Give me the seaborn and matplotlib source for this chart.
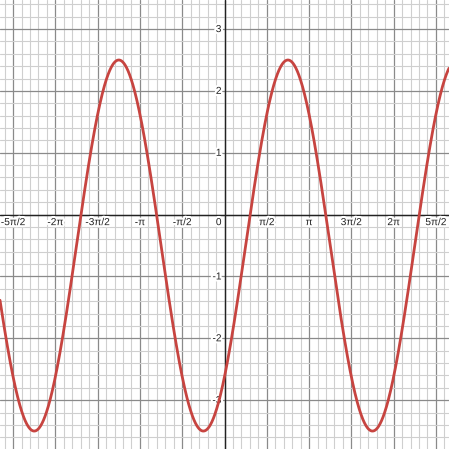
import numpy as np
import pandas as pd
import matplotlib
matplotlib.use("Agg")
import matplotlib.pyplot as plt
import matplotlib.patheffects as pe
from matplotlib.ticker import MultipleLocator
import seaborn as sns

# ---- data ----
amplitude = 3.0          # peak 2.5, trough -3.5
midline = -0.5
phase_shift = np.pi / 4  # y = A*sin(x - phase) + midline
x_range = [-8.34, 8.34]
y_range = [-3.79, 3.47]

x_tick_values = [-5, -4, -3, -2, -1, 1, 2, 3, 4, 5]   # multiples of pi/2
x_tick_labels = ["-5π/2", "-2π", "-3π/2", "-π", "-π/2",
                 "π/2", "π", "3π/2", "2π", "5π/2"]
y_tick_values = [-3, -2, -1, 1, 2, 3]
y_tick_labels = ["-3", "-2", "-1", "1", "2", "3"]

xs = np.linspace(x_range[0], x_range[1], 1200)
df = pd.DataFrame({"x": xs, "y": amplitude * np.sin(xs - phase_shift) + midline})

sns.set_theme(style="white")
plt.rcParams["font.family"] = ["Liberation Sans", "DejaVu Sans"]

fig = plt.figure(figsize=(4.49, 4.49), dpi=100)
ax = fig.add_axes([0, 0, 1, 1])
ax.set_xlim(*x_range)
ax.set_ylim(*y_range)

# grid
ax.xaxis.set_major_locator(MultipleLocator(np.pi / 2))
ax.xaxis.set_minor_locator(MultipleLocator(np.pi / 10))
ax.yaxis.set_major_locator(MultipleLocator(1))
ax.yaxis.set_minor_locator(MultipleLocator(0.2))
ax.grid(which="minor", color="#cfcfcf", linewidth=0.8, zorder=0)
ax.grid(which="major", color="#8a8a8a", linewidth=0.9, zorder=0.5)
ax.tick_params(which="both", length=0, labelbottom=False, labelleft=False)
for s in ax.spines.values():
    s.set_visible(False)

ax.axhline(0, color="#222222", linewidth=1.0, zorder=1)
ax.axvline(0, color="#222222", linewidth=1.0, zorder=1)

sns.lineplot(data=df, x="x", y="y", ax=ax, color="#c74440", linewidth=2.0,
             zorder=3, sort=False)
ax.set_xlabel("")
ax.set_ylabel("")

halo = [pe.withStroke(linewidth=3, foreground="white")]
fs = 7.3
for v, lab in zip(x_tick_values, x_tick_labels):
    ax.annotate(lab, (v * np.pi / 2, 0), xytext=(0, -7.5), textcoords="offset pixels",
                ha="center", va="center", fontsize=fs, color="#222222",
                path_effects=halo, zorder=2)
for v, lab in zip(y_tick_values, y_tick_labels):
    ax.annotate(lab, (0, v), xytext=(-3, 0), textcoords="offset pixels",
                ha="right", va="center", fontsize=fs, color="#222222",
                path_effects=halo, zorder=2)
ax.annotate("0", (0, 0), xytext=(-3, -7.5), textcoords="offset pixels",
            ha="right", va="center", fontsize=fs, color="#222222",
            path_effects=halo, zorder=2)

fig.savefig("out.png", dpi=100)
